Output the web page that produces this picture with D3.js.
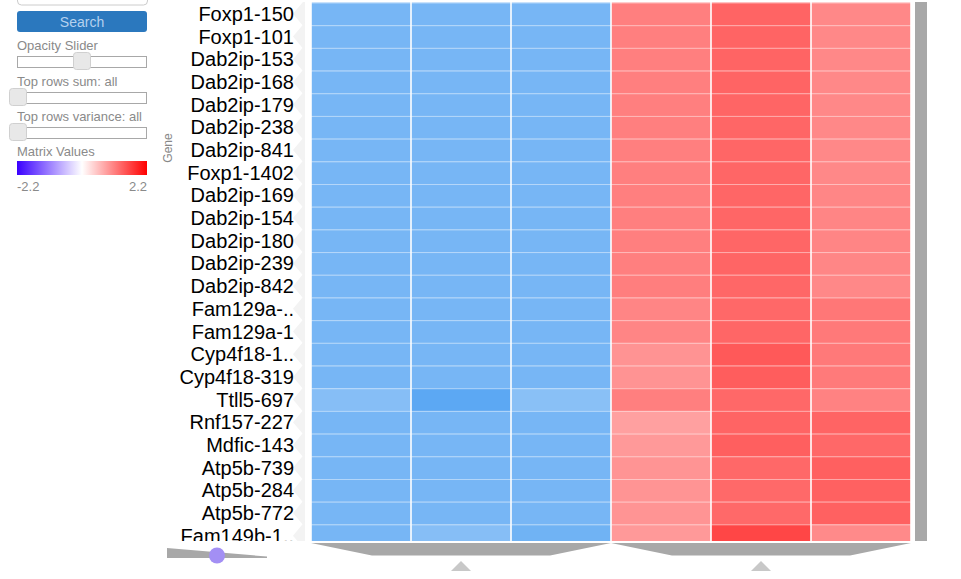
<!DOCTYPE html>
<html>
<head>
<meta charset="utf-8">
<script src="https://cdn.jsdelivr.net/npm/d3@7"></script>
<style>
  body { margin: 0; background: #fff; font-family: "Liberation Sans", Arial, Helvetica, sans-serif; }
  svg { display: block; }
</style>
</head>
<body>
<svg id="viz" width="961" height="579"></svg>
<script>

// row names, top to bottom
var rowNames = ["Foxp1-150", "Foxp1-101", "Dab2ip-153", "Dab2ip-168", "Dab2ip-179", "Dab2ip-238",
	"Dab2ip-841", "Foxp1-1402", "Dab2ip-169", "Dab2ip-154", "Dab2ip-180", "Dab2ip-239",
	"Dab2ip-842", "Fam129a-..", "Fam129a-1", "Cyp4f18-1..", "Cyp4f18-319", "Ttll5-697",
	"Rnf157-227", "Mdfic-143", "Atp5b-739", "Atp5b-284", "Atp5b-772", "Fam149b-1.."];

// columns are not labelled in the view
var colNames = ["col-1", "col-2", "col-3", "col-4", "col-5", "col-6"];

// matrix values, one array per row
var values = [
	[-1.32, -1.32, -1.32, 1.10, 1.34, 1.03],
	[-1.32, -1.32, -1.32, 1.10, 1.34, 1.03],
	[-1.32, -1.32, -1.32, 1.10, 1.34, 1.03],
	[-1.32, -1.32, -1.32, 1.10, 1.34, 1.03],
	[-1.32, -1.32, -1.32, 1.10, 1.33, 1.03],
	[-1.32, -1.32, -1.32, 1.10, 1.32, 1.03],
	[-1.32, -1.32, -1.32, 1.10, 1.32, 1.03],
	[-1.32, -1.32, -1.32, 1.10, 1.32, 1.03],
	[-1.32, -1.32, -1.32, 1.10, 1.32, 1.04],
	[-1.32, -1.32, -1.32, 1.10, 1.32, 1.05],
	[-1.32, -1.32, -1.32, 1.10, 1.32, 1.05],
	[-1.32, -1.32, -1.32, 1.10, 1.33, 1.04],
	[-1.32, -1.32, -1.32, 1.11, 1.31, 1.03],
	[-1.32, -1.32, -1.32, 1.05, 1.30, 1.17],
	[-1.32, -1.32, -1.32, 1.05, 1.32, 1.16],
	[-1.32, -1.32, -1.32, 0.93, 1.43, 1.16],
	[-1.32, -1.32, -1.32, 0.93, 1.40, 1.15],
	[-1.17, -1.58, -1.15, 1.10, 1.30, 1.08],
	[-1.32, -1.32, -1.32, 0.82, 1.34, 1.34],
	[-1.32, -1.32, -1.32, 0.88, 1.38, 1.30],
	[-1.32, -1.32, -1.32, 0.92, 1.30, 1.37],
	[-1.32, -1.32, -1.32, 0.92, 1.29, 1.36],
	[-1.32, -1.32, -1.32, 0.92, 1.29, 1.36],
	[-1.32, -1.17, -1.39, 0.88, 1.60, 1.01]
];

var colorMin = -2.2, colorMax = 2.2;

var svg = d3.select('#viz');

// ---- sidebar ----
var side = svg.append('g');

side.append('rect')
	.attr('x', 17.5).attr('y', -12).attr('width', 130).attr('height', 17)
	.attr('rx', 4)
	.style('fill', '#fff').style('stroke', '#ccc');

side.append('rect')
	.attr('x', 17).attr('y', 11).attr('width', 130).attr('height', 21)
	.attr('rx', 3)
	.style('fill', '#2b78be');
side.append('text')
	.attr('x', 82).attr('y', 27)
	.attr('text-anchor', 'middle')
	.style('font-size', '14px').style('fill', '#b5d1ee')
	.text('Search');

function slider(label, y, handleX) {
	side.append('text')
		.attr('x', 17).attr('y', y)
		.style('font-size', '13px').style('fill', '#8a8a8a')
		.text(label);
	side.append('rect')
		.attr('x', 17.5).attr('y', y + 6.5).attr('width', 129).attr('height', 11)
		.style('fill', '#fff').style('stroke', '#a8a8a8');
	side.append('rect')
		.attr('x', handleX).attr('y', y + 2.5).attr('width', 17).attr('height', 17)
		.attr('rx', 3)
		.style('fill', '#e8e8e8').style('stroke', '#d0d0d0');
}
slider('Opacity Slider', 50, 73.5);
slider('Top rows sum: all', 86, 9.5);
slider('Top rows variance: all', 121, 9.5);

side.append('text')
	.attr('x', 17).attr('y', 156)
	.style('font-size', '13px').style('fill', '#8a8a8a')
	.text('Matrix Values');

var grad = svg.append('defs').append('linearGradient').attr('id', 'cbar');
grad.append('stop').attr('offset', '0%').attr('stop-color', '#3a00ff');
grad.append('stop').attr('offset', '50%').attr('stop-color', '#ffffff');
grad.append('stop').attr('offset', '100%').attr('stop-color', '#ff0000');
side.append('rect')
	.attr('x', 17).attr('y', 161).attr('width', 130).attr('height', 14)
	.style('fill', 'url(#cbar)');
side.append('text')
	.attr('x', 17).attr('y', 191)
	.style('font-size', '13px').style('fill', '#8a8a8a')
	.text(colorMin);
side.append('text')
	.attr('x', 147).attr('y', 191)
	.attr('text-anchor', 'end')
	.style('font-size', '13px').style('fill', '#8a8a8a')
	.text(colorMax);

// ---- heatmap ----
var x = d3.scaleBand().domain(colNames).range([311, 911]);
var y = d3.scaleBand().domain(rowNames).range([2.5, 2.5 + 24 * 22.69]);
var opacity = d3.scaleLinear().domain([0, colorMax]).range([0, 1]).clamp(true);

svg.select('defs').append('clipPath').attr('id', 'matClip')
	.append('rect').attr('x', 0).attr('y', 2).attr('width', 961).attr('height', 539);

var mat = svg.append('g').attr('clip-path', 'url(#matClip)');

var cells = [];
values.forEach(function(row, i) {
	row.forEach(function(v, j) {
		cells.push({ row: rowNames[i], col: colNames[j], value: v });
	});
});

// label triangles
mat.selectAll('.rowTri')
	.data(rowNames)
	.enter().append('path')
		.attr('class', 'rowTri')
		.attr('d', function(d) {
			var t = y(d), b = y(d) + y.bandwidth(), m = t + y.bandwidth() / 2;
			return 'M305,' + (t - 3) + 'L293,' + m + 'L305,' + (b + 3) + 'Z';
		})
		.style('fill', '#f3f3f3');

mat.selectAll('.tile')
	.data(cells)
	.enter().append('rect')
		.attr('class', 'tile')
		.attr('x', function(d) { return x(d.col) + 0.8; })
		.attr('y', function(d) { return y(d.row); })
		.attr('width', x.bandwidth() - 1.6)
		.attr('height', y.bandwidth())
		.style('fill', function(d) { return d.value > 0 ? '#FF0000' : '#1C86EE'; })
		.style('fill-opacity', function(d) { return opacity(Math.abs(d.value)); });

mat.selectAll('.rowLine')
	.data(rowNames)
	.enter().append('line')
		.attr('class', 'rowLine')
		.attr('x1', 311).attr('x2', 911)
		.attr('y1', function(d) { return y(d) + 0.5; })
		.attr('y2', function(d) { return y(d) + 0.5; })
		.style('stroke', '#fff').style('stroke-opacity', 0.45).style('stroke-width', 1);

mat.selectAll('.rowLabel')
	.data(rowNames)
	.enter().append('text')
		.attr('class', 'rowLabel')
		.attr('x', 294)
		.attr('y', function(d) { return y(d) + y.bandwidth() / 2 + 7; })
		.attr('text-anchor', 'end')
		.style('font-size', '20px').style('fill', '#000')
		.text(function(d) { return d; });

// row dendrogram bar
mat.append('rect')
	.attr('x', 915).attr('y', 2).attr('width', 12).attr('height', 539)
	.style('fill', '#a8a8a8');

svg.append('text')
	.attr('transform', 'translate(172,148) rotate(-90)')
	.attr('text-anchor', 'middle')
	.style('font-size', '12px').style('fill', '#888')
	.text('Gene');

// ---- column dendrogram groups ----
var groups = [[colNames[0], colNames[2]], [colNames[3], colNames[5]]];
groups.forEach(function(g) {
	var x0 = x(g[0]), x1 = x(g[1]) + x.bandwidth();
	var w = x1 - x0;
	svg.append('path')
		.attr('d', 'M' + x0 + ',543L' + x1 + ',543L' + (x1 - w * 0.203) + ',555.5L' + (x0 + w * 0.203) + ',555.5Z')
		.style('fill', '#a8a8a8');
	var cx = (x0 + x1) / 2;
	svg.append('path')
		.attr('d', 'M' + cx + ',561L' + (cx + 10) + ',571L' + (cx - 10) + ',571Z')
		.style('fill', '#c8c8c8');
});

// zoom slider bottom left
svg.append('path')
	.attr('d', 'M167,548L267,556.5L267,558L167,558Z')
	.style('fill', '#a8a8a8');
svg.append('circle')
	.attr('cx', 217).attr('cy', 555.5).attr('r', 8)
	.style('fill', '#a38ff4');

</script>
</body>
</html>
